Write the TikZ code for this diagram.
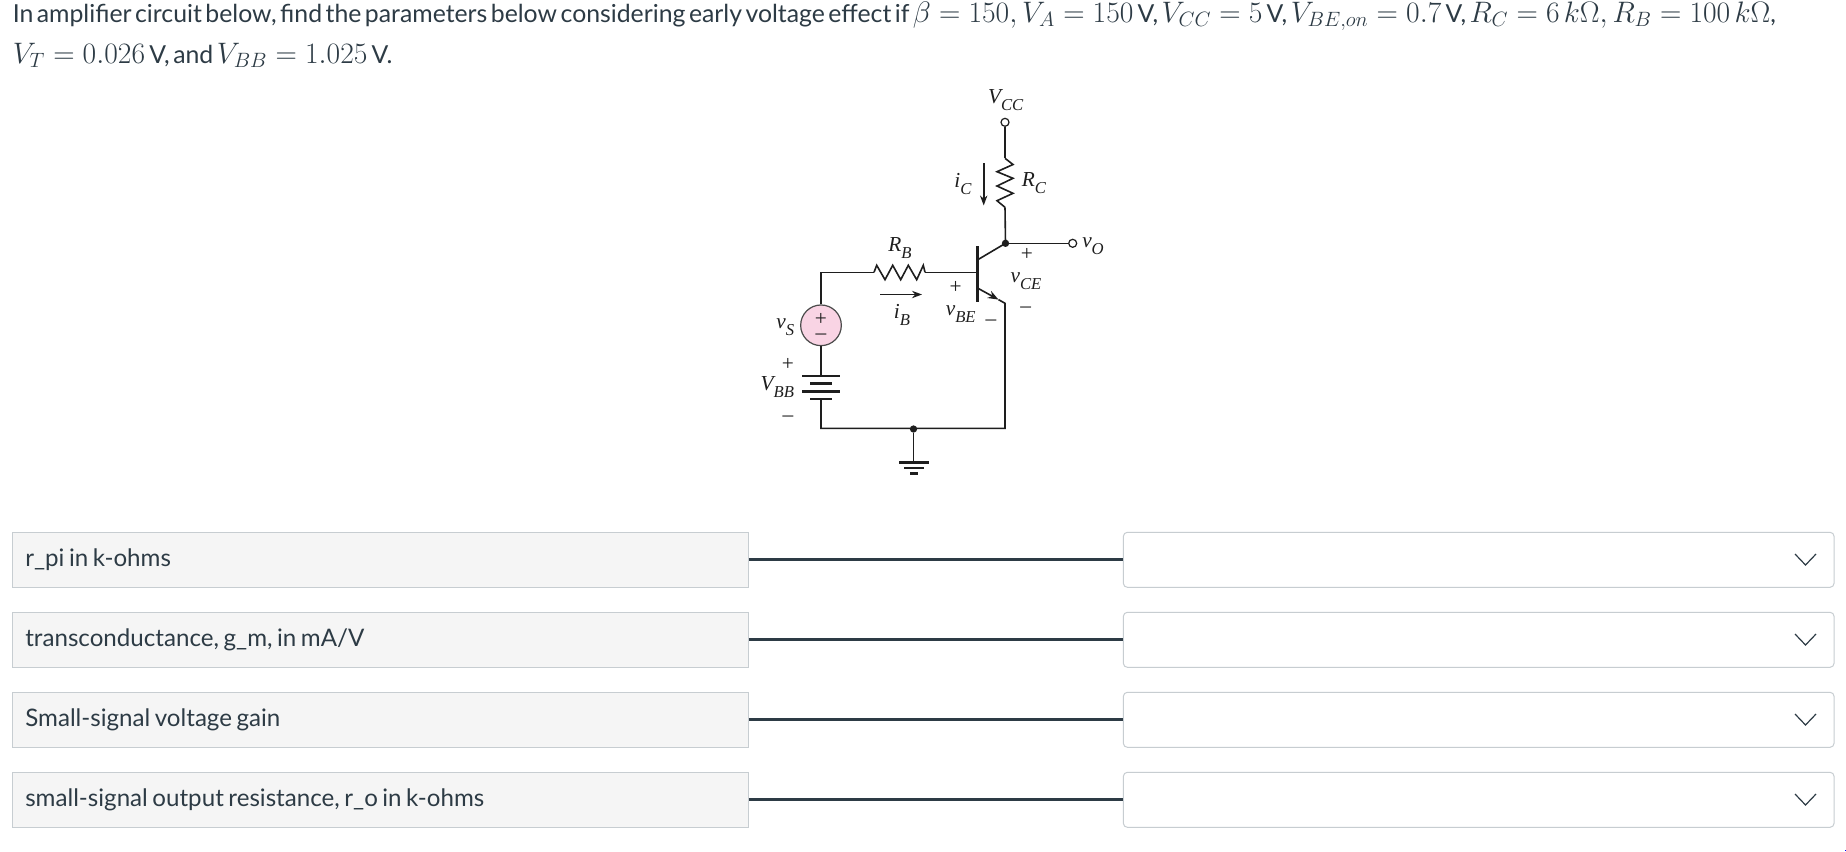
\RequirePackage{fix-cm}
\documentclass[tikz,border=0pt]{standalone}
\usepackage{fontspec}
\setmainfont{Lato}[WordSpace=0.55]
\newfontfamily\cfont{Liberation Serif}[ItalicFont=* Italic]
\usetikzlibrary{arrows.meta}
\definecolor{ink}{HTML}{2D3B45}
\definecolor{edge}{HTML}{C7CDD1}
\definecolor{pale}{HTML}{F5F5F5}
\definecolor{pinkfill}{HTML}{F9D4E4}
\definecolor{cink}{HTML}{1E1E1E}
\newcommand{\CL}[2]{{\fontsize{16}{16}\selectfont\cfont\itshape #1\raisebox{-0.33em}{\fontsize{12.5}{12.5}\selectfont #2}}}
\newcommand{\PM}[1]{{\fontsize{16}{16}\selectfont\cfont #1}}
\newcommand{\MM}[1]{{\fontsize{22.2}{26}\selectfont$#1$}}
\tikzset{
  promptbox/.style={draw=edge,fill=pale,line width=0.75pt,minimum width=552pt,minimum height=41.25pt,text width=532.5pt,inner xsep=9.75pt,inner ysep=0pt,text=ink,font=\fontsize{18.1}{22}\selectfont,anchor=center},
  answerbox/.style={draw=edge,fill=white,line width=0.75pt,rounded corners=3pt,minimum width=533pt,minimum height=41.25pt,inner sep=0pt,anchor=center},
  linkline/.style={draw=ink,line width=2.25pt},
  chevron/.style={draw=ink,line width=0.9pt},
  wire/.style={draw=cink,line width=1.2pt},
  plate/.style={draw=cink,line width=1.9pt},
  term/.style={circle,draw=cink,fill=white,line width=0.9pt,minimum size=6pt,inner sep=0pt},
  junction/.style={circle,fill=cink,minimum size=5.5pt,inner sep=0pt},
  lab/.style={inner sep=0pt,text=cink},
  flow/.style={draw=cink,line width=1.2pt,-{Stealth[length=7.5pt,width=5.5pt]}},
  headline/.style={anchor=base west,inner sep=0pt,text=ink,font=\fontsize{18.6}{23}\selectfont}
}
\begin{document}
\begin{tikzpicture}[x=0.75pt,y=-0.75pt]
\useasboundingbox (0,0) rectangle (1846,851);
\fill[white] (0,0) rectangle (1846,851);
% heading
\node[headline] (t1) at (12.5,22) {In amplifier circuit below, find the parameters below considering early voltage effect if \MM{\beta=150, V_A=150}\,V, \MM{V_{CC}=5}\,V, \MM{V_{BE,on}=0.7}\,V, \MM{R_C=6\ k\Omega, R_B=100\ k\Omega},};
\node[headline] (t2) at (12.5,63.5) {\MM{V_T=0.026}\,V, and \MM{V_{BB}=1.025}\,V.};
% circuit points
\coordinate (vcc) at (1005,122.3);
\node[term] (ntop) at (vcc) {};
\coordinate (rct) at (1005,158.3);
\coordinate (rcb) at (1005,207.3);
\node[junction] (col) at (1005.5,243.3) {};
\node[term] (vout) at (1072.7,243.3) {};
\coordinate (bart) at (977.3,246);
\coordinate (barb) at (977.3,301.7);
\coordinate (base) at (977.3,272.3);
\coordinate (cin) at (977.3,260);
\coordinate (ein) at (978,288.3);
\coordinate (etip) at (998.5,299.6);
\coordinate (eout) at (1005,303.3);
\coordinate (br) at (1005,428.3);
\node[junction] (gj) at (913.5,429) {};
\coordinate (gnd) at (913.5,462.7);
\coordinate (bl) at (821,428.3);
\coordinate (tl) at (821,272.3);
\coordinate (rbl) at (874,272.3);
\coordinate (rbr) at (925,272.3);
\node[circle,draw=cink!80,fill=pinkfill,line width=0.9pt,minimum size=30.5pt,inner sep=0pt] (src) at (821,325.3) {};
\coordinate (bt) at (821,376);
\coordinate (bb) at (821,399);
% wires
\draw[wire] (ntop) -- (rct);
\draw[wire] (rct) -- (1013,164.5) -- (997,171.7) -- (1013,178.3) -- (997,186) -- (1013,193.3) -- (997,200.7) -- (rcb);
\draw[wire] (rcb) -- (col.center);
\draw[wire] (col) -- (vout);
\draw[wire] (src) -- (tl) -- (rbl);
\draw[wire] (rbl) -- (876.7,265.3) -- (885,279.7) -- (892.7,265.3) -- (900.7,279.7) -- (908.3,265.3) -- (916.7,279.7) -- (923.3,265.3) -- (rbr);
\draw[wire] (rbr) -- (base);
\draw[line width=2.4pt,cink] (bart) -- (barb);
\draw[wire] (cin) -- (col.center);
\draw[wire,-{Stealth[length=8pt,width=6pt]}] (ein) -- (etip);
\draw[wire] (etip) -- (eout) -- (br) -- (bl) -- (bb);
\draw[wire] (src) -- (bt);
\draw[wire] (gj) -- (gnd);
% battery
\draw[plate] (802,376) -- (840,376);
\draw[plate] (810,383.7) -- (832,383.7);
\draw[plate] (802,391.3) -- (840,391.3);
\draw[plate] (810,399) -- (832,399);
% ground
\draw[plate] (899,462.7) -- (929,462.7);
\draw[plate] (904,468.2) -- (924,468.2);
\draw[plate] (910,473.7) -- (918,473.7);
% arrows
\coordinate (ibs) at (880,294.5);
\coordinate (ibe) at (922,294.5);
\coordinate (ics) at (983.7,163.3);
\coordinate (ice) at (983.7,205.5);
\draw[flow] (ibs) -- (ibe);
\draw[flow] (ics) -- (ice);
% labels
\node[lab] (lvcc) at (1005.7,100) {\CL{V}{CC}};
\node[lab] (lic) at (963,184) {\CL{i}{C}};
\node[lab] (lrc) at (1034,183) {\CL{R}{C}};
\node[lab] (lrb) at (900,248.5) {\CL{R}{B}};
\node[lab] (lvo) at (1093,245.7) {\CL{v}{O}};
\node[lab] (pce) at (1027,254.3) {\PM{+}};
\node[lab] (lvce) at (1026,281) {\CL{v}{CE}};
\node[lab] (mce) at (1025.7,310) {\PM{–}};
\node[lab] (pbe) at (955.7,287.3) {\PM{+}};
\node[lab] (lib) at (902,315) {\CL{i}{B}};
\node[lab] (lvbe) at (960.7,314) {\CL{v}{BE}};
\node[lab] (mbe) at (991,322.5) {\PM{–}};
\node[lab] (lvs) at (785.3,327.5) {\CL{v}{S}};
\node[lab] (ps) at (821,319.5) {\PM{+}};
\node[lab] (ms) at (821,337) {\PM{–}};
\node[lab] (pbb) at (788,364) {\PM{+}};
\node[lab] (lvbb) at (777.3,387.5) {\CL{V}{BB}};
\node[lab] (mbb) at (788,419) {\PM{–}};
% rows
\foreach \n/\y/\s in {1/559.8/{r\_pi in k-ohms},2/639.8/{transconductance, g\_m, in mA/V},3/719.8/{Small-signal voltage gain},4/799.8/{small-signal output resistance, r\_o in k-ohms}}{
  \node[promptbox] (L\n) at (380.3,\y) {\raisebox{-5pt}[0pt][0pt]{\spaceskip=3.4pt\relax\s}};
  \node[answerbox] (R\n) at (1478.7,\y) {};
  \draw[linkline] (L\n.east) -- (R\n.west);
  \draw[chevron] (1795,\y-5.8) -- (1805.5,\y+5.2) -- (1816,\y-5.8);
}
\fill[blue] (1844.5,849.5) rectangle (1846,851);
\end{tikzpicture}
\end{document}
